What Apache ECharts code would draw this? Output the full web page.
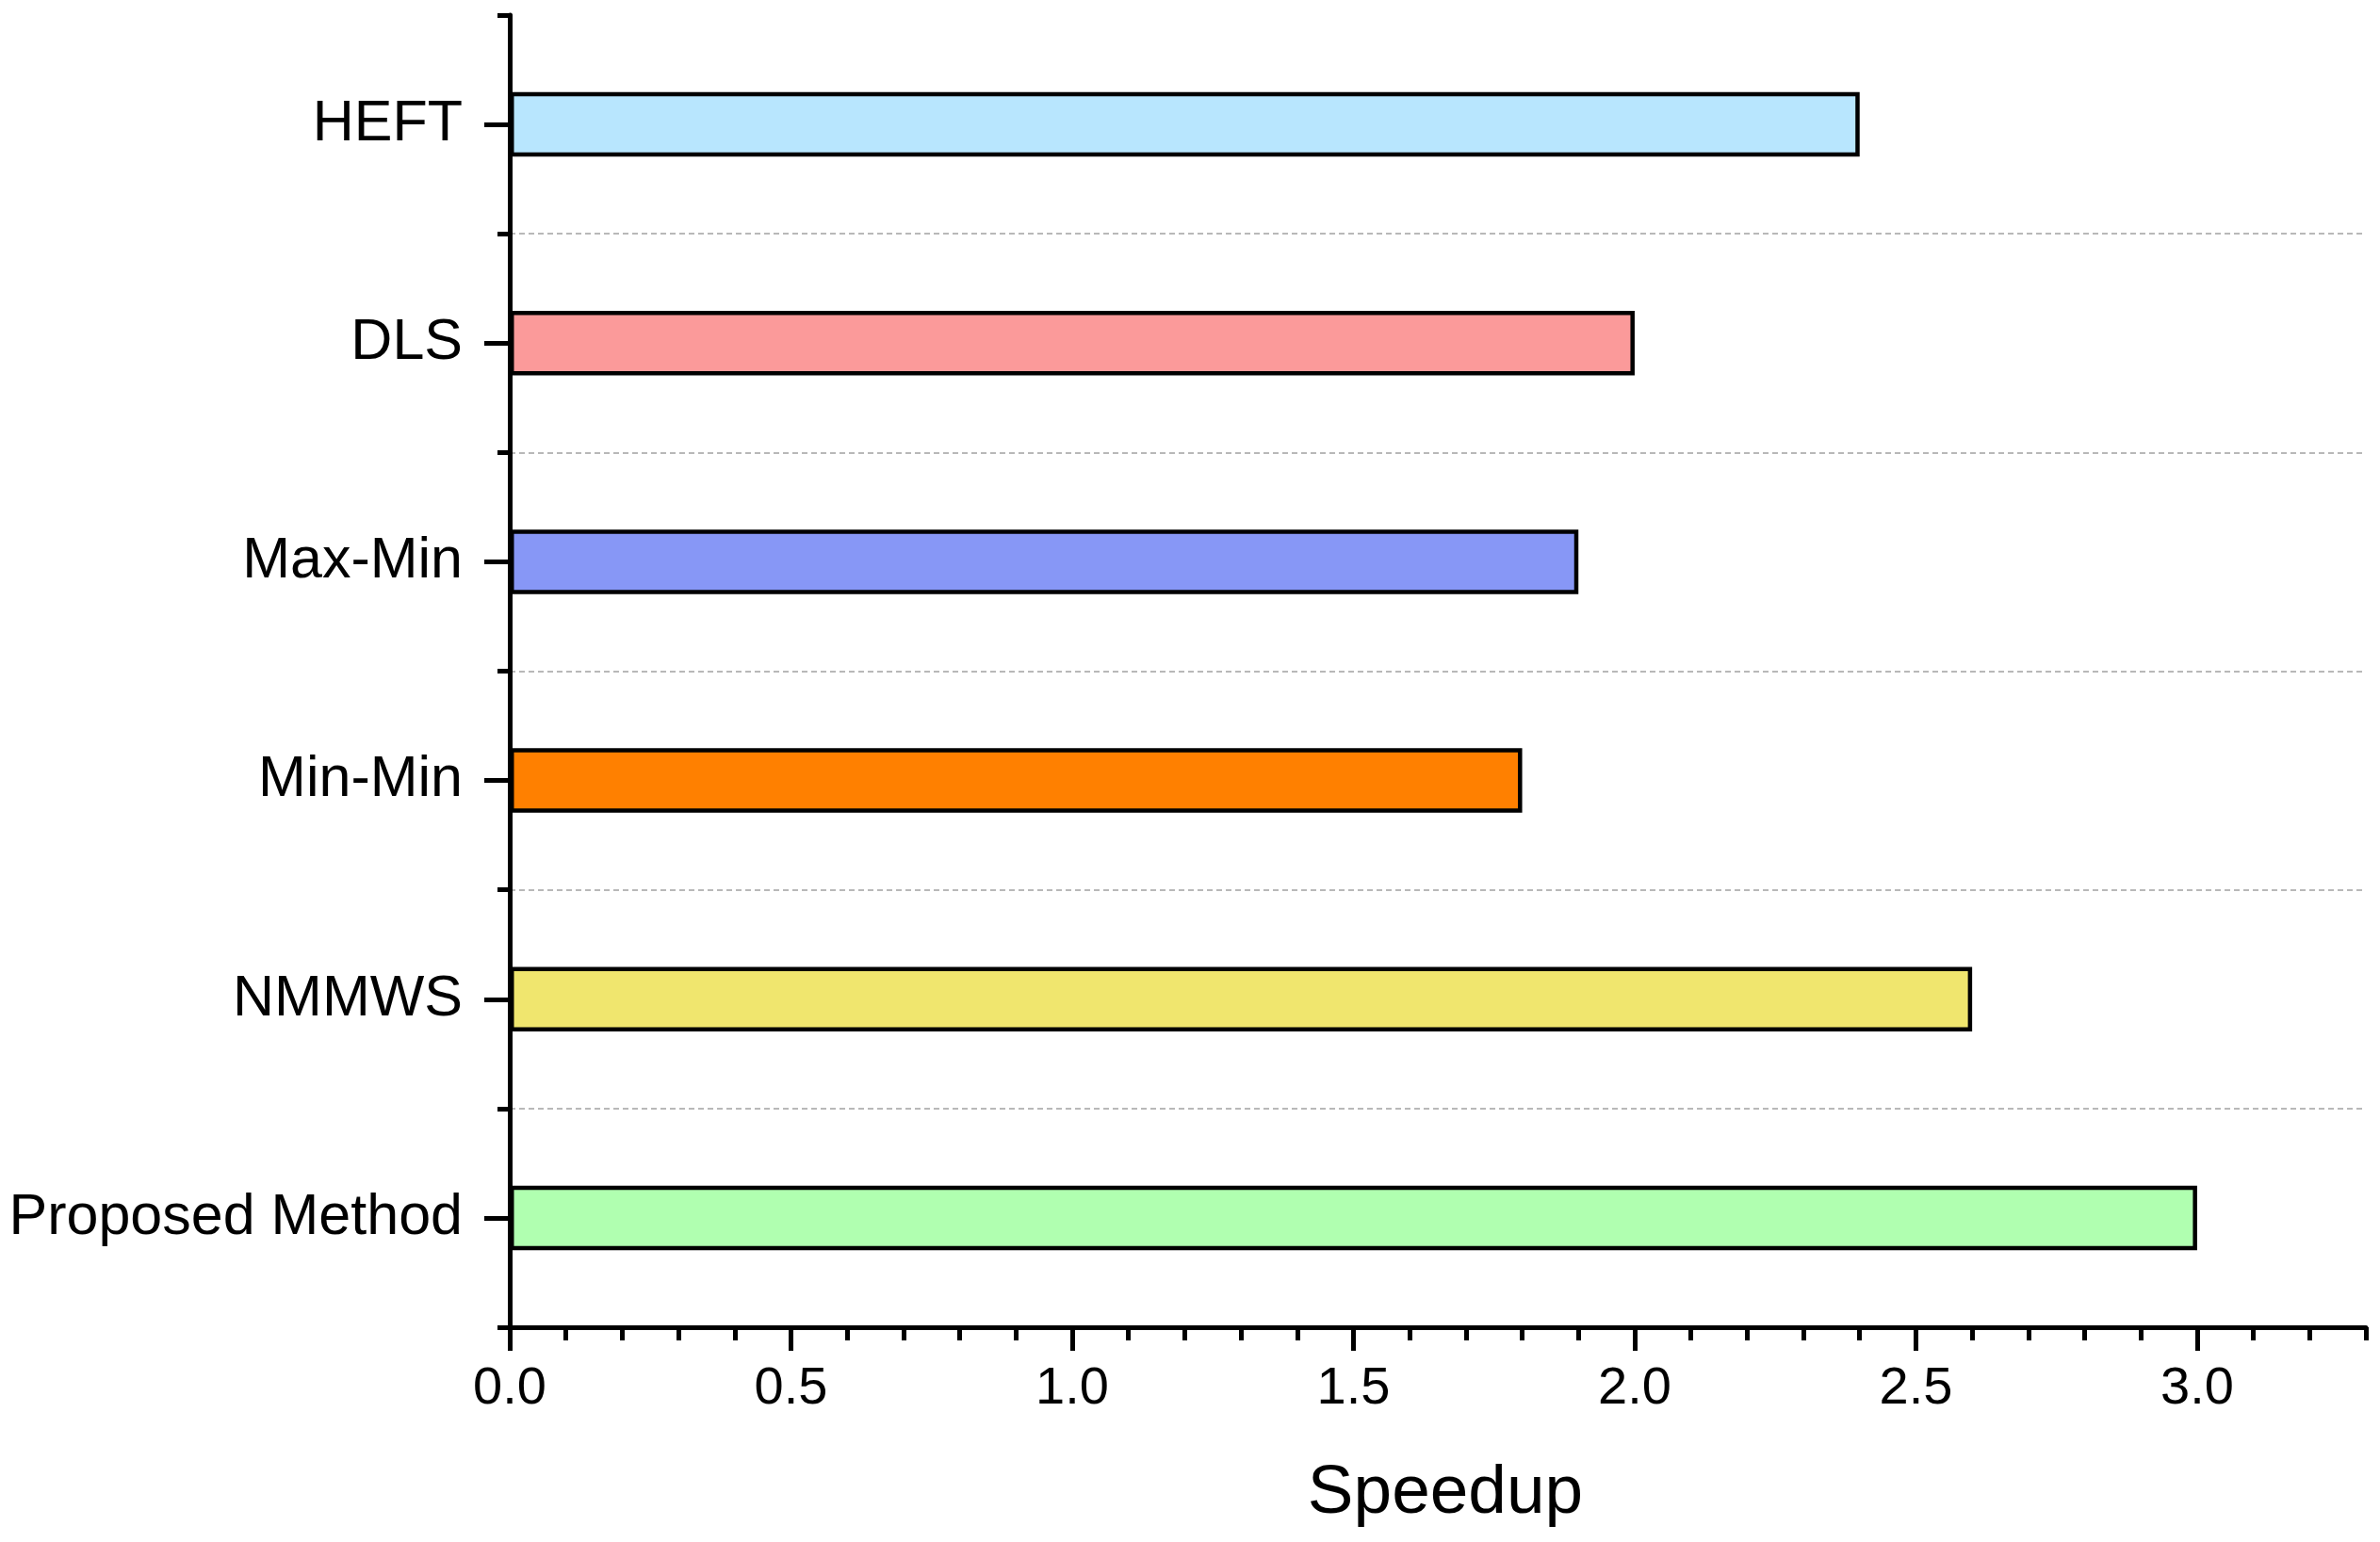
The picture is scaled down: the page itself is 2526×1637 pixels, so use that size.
<!DOCTYPE html>
<html>
<head>
<meta charset="utf-8">
<script src="https://cdn.jsdelivr.net/npm/echarts@6/dist/echarts.min.js"></script>
<style>
html,body{margin:0;padding:0;background:#fff;}
#chart{width:2526px;height:1637px;}
</style>
</head>
<body>
<div id="chart"></div>
<script>
// Data (top to bottom)
var categories = ['HEFT', 'DLS', 'Max-Min', 'Min-Min', 'NMMWS', 'Proposed Method'];
var speedup = [2.4, 2.0, 1.9, 1.8, 2.6, 3.0];
var barColors = ['#B8E6FE', '#FB9A9A', '#8797F6', '#FF8000', '#F0E66E', '#B0FFB0'];
var majorTicks = [0, 0.5, 1.0, 1.5, 2.0, 2.5, 3.0];
var xMin = 0, xMax = 3.3;
var axisTitle = 'Speedup';

var FONT = "'Liberation Sans', Arial, sans-serif";
var chart = echarts.init(document.getElementById('chart'), null, {renderer: 'canvas'});

var seriesData = speedup.map(function (v, i) {
  return {value: v, itemStyle: {color: barColors[i]}};
});

chart.setOption({
  animation: false,
  backgroundColor: '#ffffff',
  grid: {left: 541, right: 15, top: 16, bottom: 228, containLabel: false, outerBoundsMode: 'none'},
  xAxis: [
    {
      type: 'value', position: 'bottom', min: xMin, max: xMax, interval: 0.5,
      name: axisTitle, nameLocation: 'middle', nameGap: 140,
      nameTextStyle: {fontFamily: FONT, fontSize: 73, color: '#000', padding: [0, 0, 0, 16]},
      axisLine: {show: true, lineStyle: {color: '#000', width: 5}},
      axisTick: {show: true, length: 25, lineStyle: {color: '#000', width: 5}, customValues: majorTicks},
      axisLabel: {show: true, margin: 38, fontFamily: FONT, fontSize: 56, color: '#000',
        customValues: majorTicks,
        formatter: function (v) { return v.toFixed(1); }},
      splitLine: {show: false},
      minorTick: {show: false}
    },
    {
      type: 'value', position: 'bottom', min: xMin, max: xMax, interval: 0.1,
      axisLine: {show: false},
      axisTick: {show: true, length: 14, lineStyle: {color: '#000', width: 5}},
      axisLabel: {show: false},
      splitLine: {show: false}
    }
  ],
  yAxis: [
    {
      type: 'category', data: categories, inverse: true, position: 'left',
      axisLine: {show: true, lineStyle: {color: '#000', width: 5}},
      axisTick: {show: true, alignWithLabel: true, length: 27, lineStyle: {color: '#000', width: 5}},
      axisLabel: {show: true, margin: 50, fontFamily: FONT, fontSize: 61, color: '#000'},
      splitLine: {show: true, showMinLine: false, showMaxLine: false,
        lineStyle: {color: '#b8b8b8', width: 2, type: [6, 4]}}
    },
    {
      type: 'category', data: categories, inverse: true, position: 'left',
      axisLine: {show: false},
      axisTick: {show: true, alignWithLabel: false, length: 13, lineStyle: {color: '#000', width: 5}},
      axisLabel: {show: false},
      splitLine: {show: false}
    }
  ],
  series: [{
    type: 'bar',
    xAxisIndex: 0,
    yAxisIndex: 0,
    data: seriesData,
    barWidth: '29.5%',
    itemStyle: {borderColor: '#000', borderWidth: 4.5}
  }]
});
</script>
</body>
</html>
